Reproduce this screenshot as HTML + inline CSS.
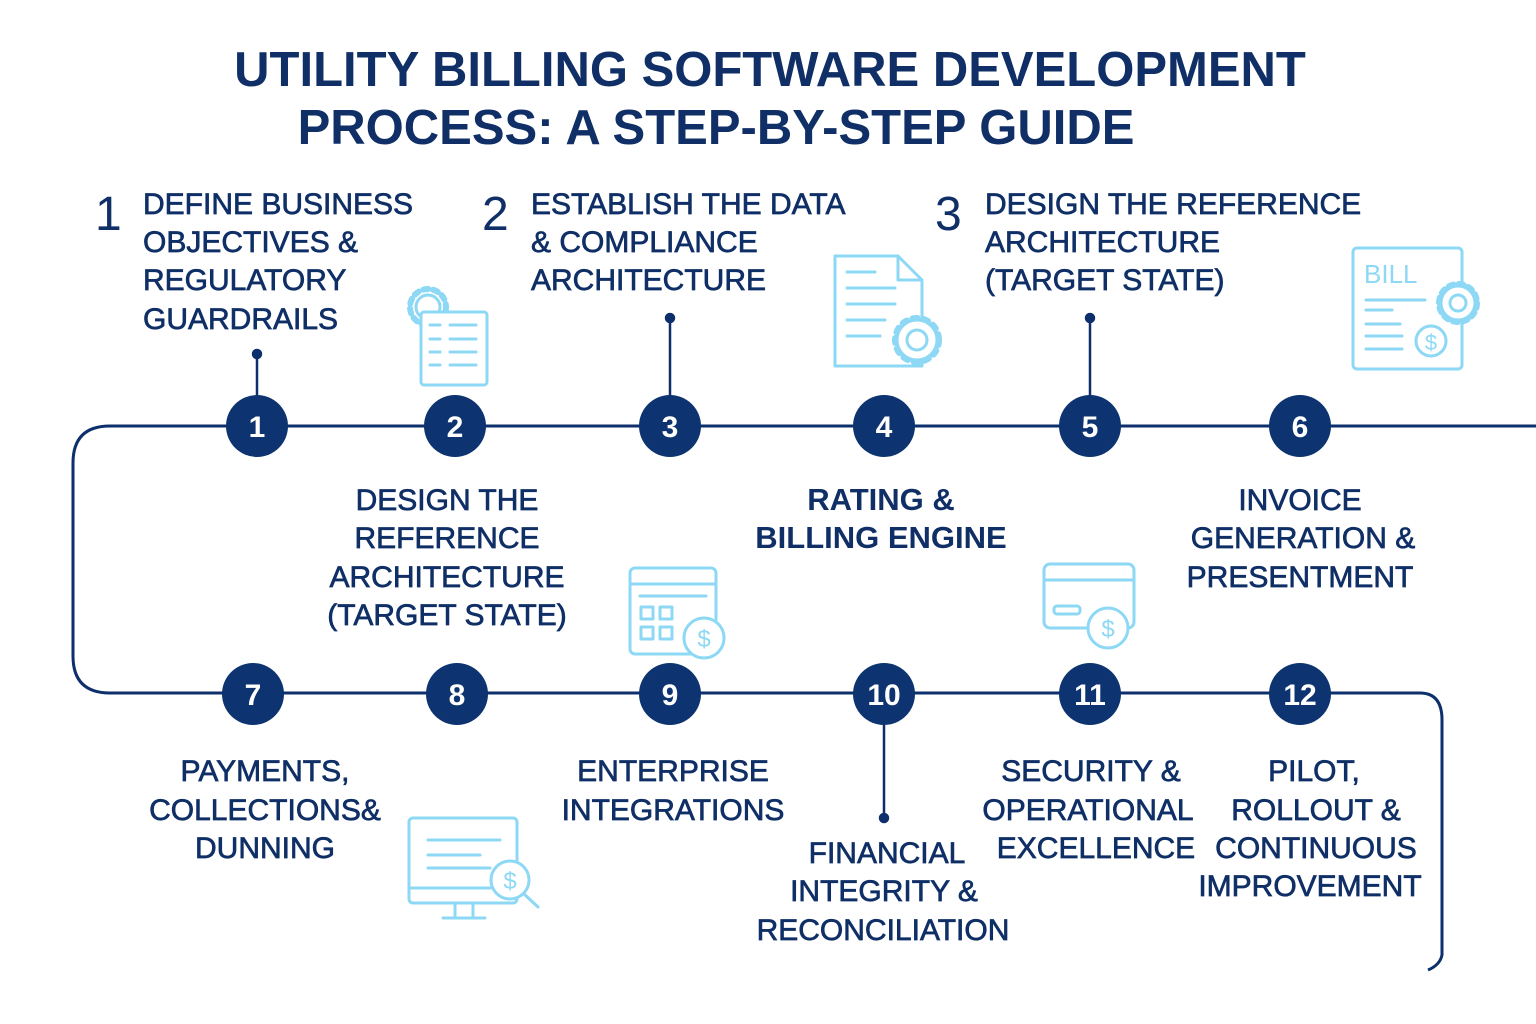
<!DOCTYPE html>
<html><head><meta charset="utf-8"><style>
html,body{margin:0;padding:0;background:#fff}
svg{display:block}
text{font-family:"Liberation Sans",sans-serif;fill:#0f2f66}
.t{font-size:30px;stroke:#0f2f66;stroke-width:0.7px}
.b{font-size:31px;font-weight:bold}
.n{font-size:30px;font-weight:bold;fill:#fff;text-anchor:middle}
.ic{fill:none;stroke:#8dd8f5;stroke-width:3;stroke-linecap:round;stroke-linejoin:round}
</style></head><body>
<svg width="1536" height="1024" viewBox="0 0 1536 1024" xmlns="http://www.w3.org/2000/svg">
<text x="770" y="86" text-anchor="middle" style="font-size:49px;font-weight:bold">UTILITY BILLING SOFTWARE DEVELOPMENT</text>
<text x="716" y="144" text-anchor="middle" style="font-size:49px;font-weight:bold">PROCESS: A STEP-BY-STEP GUIDE</text>

<path d="M1536 426 H110 Q73 426 73 463 V656 Q73 693 110 693 H1420 Q1442 693 1442 720 V955 Q1440 965 1428 970" fill="none" stroke="#0d2f6b" stroke-width="3"/>

<g stroke="#0d2f6b" stroke-width="2.5" fill="#0d2f6b">
<line x1="257" y1="354" x2="257" y2="400"/><circle cx="257" cy="354" r="4"/>
<line x1="670" y1="318" x2="670" y2="400"/><circle cx="670" cy="318" r="4"/>
<line x1="1090" y1="318" x2="1090" y2="400"/><circle cx="1090" cy="318" r="4"/>
<line x1="884" y1="720" x2="884" y2="818"/><circle cx="884" cy="818" r="4"/>
</g>

<g fill="#0d3470">
<circle cx="257" cy="426" r="31"/><circle cx="455" cy="426" r="31"/><circle cx="670" cy="426" r="31"/>
<circle cx="884" cy="426" r="31"/><circle cx="1090" cy="426" r="31"/><circle cx="1300" cy="426" r="31"/>
<circle cx="253" cy="694" r="31"/><circle cx="457" cy="694" r="31"/><circle cx="670" cy="694" r="31"/>
<circle cx="884" cy="694" r="31"/><circle cx="1090" cy="694" r="31"/><circle cx="1300" cy="694" r="31"/>
</g>
<g class="n">
<text class="n" x="257" y="437">1</text><text class="n" x="455" y="437">2</text><text class="n" x="670" y="437">3</text>
<text class="n" x="884" y="437">4</text><text class="n" x="1090" y="437">5</text><text class="n" x="1300" y="437">6</text>
<text class="n" x="253" y="705">7</text><text class="n" x="457" y="705">8</text><text class="n" x="670" y="705">9</text>
<text class="n" x="884" y="705">10</text><text class="n" x="1090" y="705">11</text><text class="n" x="1300" y="705">12</text>
</g>

<text x="95" y="230" style="font-size:48px">1</text>
<text class="t" x="143" y="214">DEFINE BUSINESS</text>
<text class="t" x="143" y="252">OBJECTIVES &amp;</text>
<text class="t" x="143" y="290">REGULATORY</text>
<text class="t" x="143" y="329">GUARDRAILS</text>

<text x="482" y="230" style="font-size:48px">2</text>
<text class="t" x="531" y="214">ESTABLISH THE DATA</text>
<text class="t" x="531" y="252">&amp; COMPLIANCE</text>
<text class="t" x="531" y="290">ARCHITECTURE</text>

<text x="935" y="230" style="font-size:48px">3</text>
<text class="t" x="985" y="214">DESIGN THE REFERENCE</text>
<text class="t" x="985" y="252">ARCHITECTURE</text>
<text class="t" x="985" y="290">(TARGET STATE)</text>

<g text-anchor="middle">
<text class="t" x="447" y="510">DESIGN THE</text>
<text class="t" x="447" y="548">REFERENCE</text>
<text class="t" x="447" y="587">ARCHITECTURE</text>
<text class="t" x="447" y="625">(TARGET STATE)</text>
<text class="b" x="881" y="510">RATING &amp;</text>
<text class="b" x="881" y="548">BILLING ENGINE</text>
<text class="t" x="1300" y="510">INVOICE</text>
<text class="t" x="1303" y="548">GENERATION &amp;</text>
<text class="t" x="1300" y="587">PRESENTMENT</text>

<text class="t" x="265" y="781">PAYMENTS,</text>
<text class="t" x="265" y="820">COLLECTIONS&amp;</text>
<text class="t" x="265" y="858">DUNNING</text>
<text class="t" x="673" y="781">ENTERPRISE</text>
<text class="t" x="673" y="820">INTEGRATIONS</text>
<text class="t" x="887" y="863">FINANCIAL</text>
<text class="t" x="884" y="901">INTEGRITY &amp;</text>
<text class="t" x="883" y="940">RECONCILIATION</text>
<text class="t" x="1091" y="781">SECURITY &amp;</text>
<text class="t" x="1088" y="820">OPERATIONAL</text>
<text class="t" x="1096" y="858">EXCELLENCE</text>
<text class="t" x="1314" y="781">PILOT,</text>
<text class="t" x="1316" y="820">ROLLOUT &amp;</text>
<text class="t" x="1316" y="858">CONTINUOUS</text>
<text class="t" x="1310" y="896">IMPROVEMENT</text>
</g>

<g class="ic">
<circle cx="428" cy="307" r="18" stroke-width="6" stroke-dasharray="5 5"/>
<circle cx="428" cy="307" r="12"/>
<rect x="421" y="312" width="66" height="73" rx="3" fill="#fff"/>
<line x1="430" y1="325" x2="440" y2="325"/><line x1="450" y1="325" x2="476" y2="325"/>
<line x1="430" y1="339" x2="440" y2="339"/><line x1="450" y1="339" x2="476" y2="339"/>
<line x1="430" y1="352" x2="440" y2="352"/><line x1="450" y1="352" x2="476" y2="352"/>
<line x1="430" y1="365" x2="440" y2="365"/><line x1="450" y1="365" x2="476" y2="365"/>
<path d="M835 256 H898 L922 280 V366 H835 Z"/>
<path d="M898 256 V280 H922"/>
<line x1="847" y1="272" x2="875" y2="272"/><line x1="847" y1="288" x2="895" y2="288"/>
<line x1="847" y1="304" x2="895" y2="304"/><line x1="847" y1="320" x2="885" y2="320"/><line x1="847" y1="336" x2="880" y2="336"/>
<circle cx="917" cy="340" r="20" fill="#fff"/>
<circle cx="917" cy="340" r="22" stroke-width="6" stroke-dasharray="5 6"/>
<circle cx="917" cy="340" r="10"/>
<rect x="1353" y="248" width="109" height="121" rx="4"/>
<text x="1364" y="283" style="font-size:26px;fill:#8dd8f5;stroke:none">BILL</text>
<line x1="1366" y1="300" x2="1425" y2="300"/><line x1="1366" y1="310" x2="1392" y2="310"/>
<line x1="1366" y1="324" x2="1400" y2="324"/><line x1="1366" y1="336" x2="1402" y2="336"/><line x1="1366" y1="349" x2="1402" y2="349"/>
<circle cx="1458" cy="303" r="17" fill="#fff"/>
<circle cx="1458" cy="303" r="19" stroke-width="6" stroke-dasharray="5 5"/>
<circle cx="1458" cy="303" r="8"/>
<circle cx="1431" cy="341" r="15"/>
<text x="1431" y="350" text-anchor="middle" style="font-size:22px;fill:#8dd8f5;stroke:none">$</text>
<rect x="630" y="568" width="86" height="86" rx="5"/>
<line x1="630" y1="584" x2="716" y2="584"/><line x1="640" y1="596" x2="706" y2="596"/>
<rect x="641" y="607" width="12" height="12"/><rect x="660" y="607" width="12" height="12"/>
<rect x="641" y="627" width="12" height="12"/><rect x="660" y="627" width="12" height="12"/>
<circle cx="704" cy="638" r="20" fill="#fff"/>
<text x="704" y="647" text-anchor="middle" style="font-size:24px;fill:#8dd8f5;stroke:none">$</text>
<rect x="1044" y="564" width="90" height="64" rx="6"/>
<line x1="1044" y1="580" x2="1134" y2="580"/><rect x="1054" y="606" width="26" height="8" rx="3"/>
<circle cx="1108" cy="628" r="20" fill="#fff"/>
<text x="1108" y="637" text-anchor="middle" style="font-size:24px;fill:#8dd8f5;stroke:none">$</text>
<rect x="409" y="818" width="108" height="85" rx="4"/>
<line x1="428" y1="840" x2="500" y2="840"/><line x1="428" y1="855" x2="480" y2="855"/><line x1="428" y1="868" x2="490" y2="868"/>
<line x1="409" y1="888" x2="490" y2="888"/>
<line x1="455" y1="903" x2="455" y2="918"/><line x1="473" y1="903" x2="473" y2="918"/><line x1="443" y1="918" x2="485" y2="918"/>
<circle cx="510" cy="880" r="19" fill="#fff"/>
<line x1="524" y1="894" x2="538" y2="907"/>
<text x="510" y="889" text-anchor="middle" style="font-size:24px;fill:#8dd8f5;stroke:none">$</text>
</g>
</svg>
</body></html>
